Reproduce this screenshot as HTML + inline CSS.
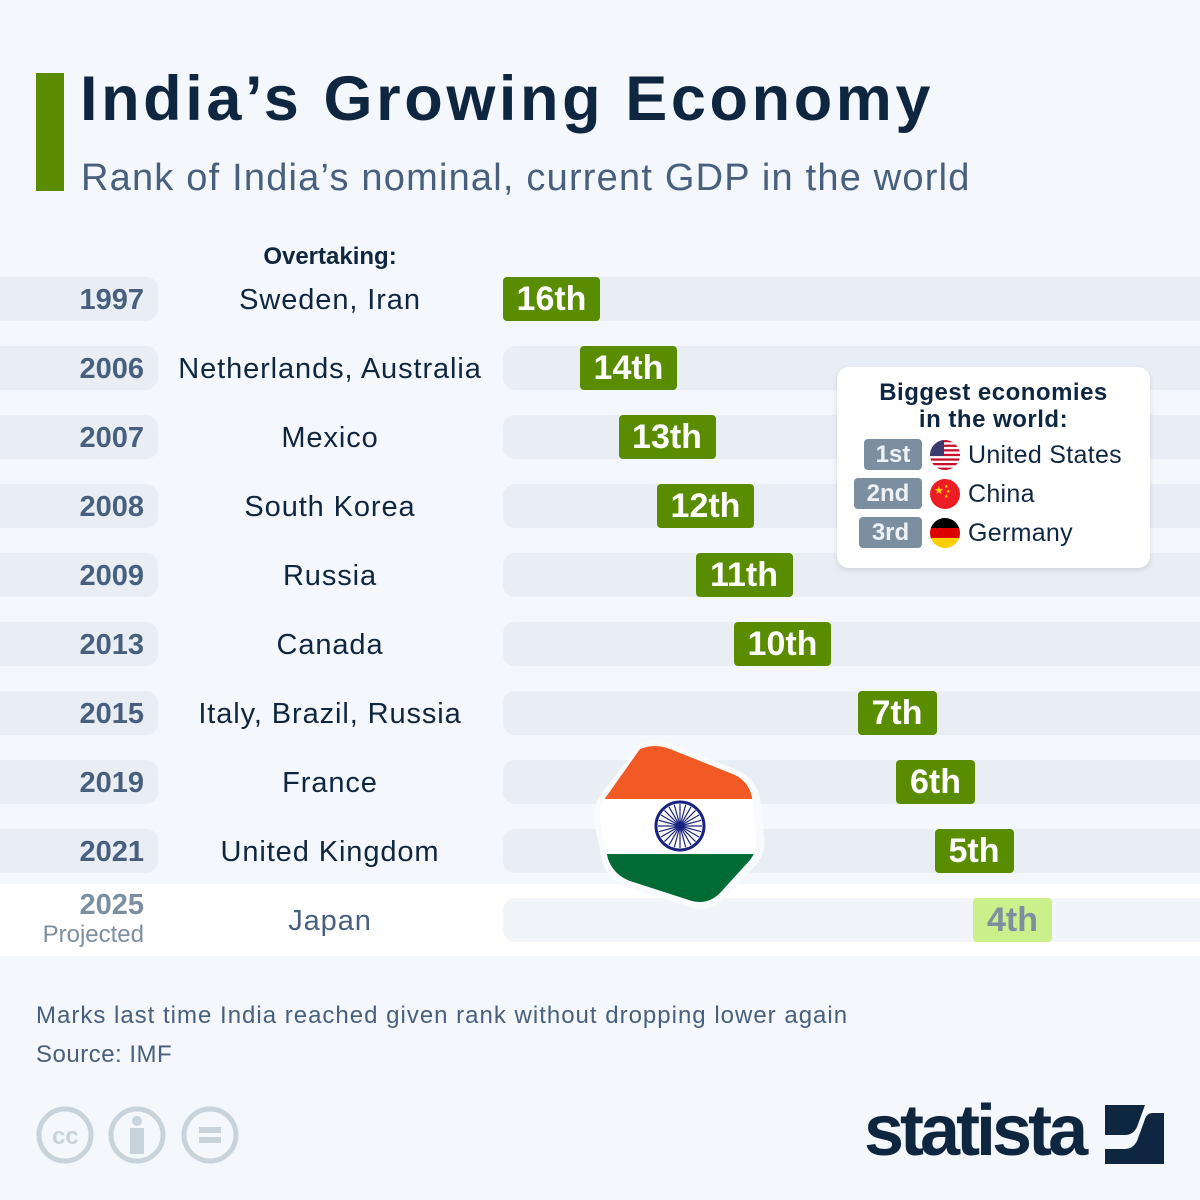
<!DOCTYPE html>
<html><head><meta charset="utf-8"><style>
body{margin:0;width:1200px;height:1200px;background:#f4f7fb;font-family:"Liberation Sans",sans-serif;position:relative;overflow:hidden;color:#0f2640}
.abs{position:absolute}
.yr{font-weight:bold;color:#48607d;font-size:29px;text-align:right}
.cty{font-size:29px;color:#0f2640;text-align:center;width:330px;letter-spacing:0.9px}
.badge{background:#5a8c00;color:#fff;font-weight:bold;font-size:34px;border-radius:4px;text-align:center;height:44px;line-height:44px}
.lrank{background:#7b8fa0;color:#eef2f6;font-weight:bold;font-size:24px;border-radius:4px;text-align:center;height:31px;line-height:31px}
</style></head><body>
<div class="abs" style="left:36px;top:73px;width:28px;height:118px;background:#5a8c00"></div>
<div class="abs" style="left:80px;top:63px;font-size:63px;font-weight:bold;color:#0f2640;letter-spacing:3.6px">India’s Growing Economy</div>
<div class="abs" style="left:81px;top:157px;font-size:38px;color:#48607d;letter-spacing:1.2px">Rank of India’s nominal, current GDP in the world</div>
<div class="abs" style="left:165px;top:243px;width:330px;text-align:center;font-size:24px;font-weight:bold">Overtaking:</div>
<div id="rows"></div>
<svg class="abs" style="left:580px;top:735px" width="200" height="180" viewBox="0 0 200 180">
<defs><clipPath id="cp"><path d="M60 14 Q75 8 90 14 L150 38 Q168 44 172 62 L176 100 Q178 115 170 125 L140 158 Q128 170 112 166 L50 146 Q34 140 28 124 L20 86 Q18 72 26 62 Z"/></clipPath></defs>
<path d="M60 8 Q75 2 90 8 L155 34 Q175 42 180 62 L184 102 Q186 118 176 130 L144 164 Q130 178 110 172 L46 152 Q28 146 22 126 L14 86 Q12 70 22 58 Z" fill="#f8fafc"/>
<g clip-path="url(#cp)"><rect x="0" y="0" width="200" height="64" fill="#f15a24"/><rect x="0" y="64" width="200" height="55" fill="#fff"/><rect x="0" y="119" width="200" height="60" fill="#006b35"/></g>
<circle cx="100" cy="91" r="24" fill="none" stroke="#1a237e" stroke-width="3"/><circle cx="100" cy="91" r="4" fill="#1a237e"/>
<g stroke="#1a237e" stroke-width="1.2" id="spokes"></g>
</svg>
<div class="abs" style="left:837px;top:367px;width:313px;height:201px;background:#fff;border-radius:12px;box-shadow:0 2px 6px rgba(0,0,0,0.12)">
<div style="position:absolute;top:12px;width:100%;text-align:center;font-weight:bold;font-size:24px;line-height:27px;letter-spacing:0.5px">Biggest economies<br>in the world:</div>
<div class="abs lrank" style="left:27px;top:72px;width:58px">1st</div>
<div class="abs lrank" style="left:17px;top:111px;width:68px">2nd</div>
<div class="abs lrank" style="left:22px;top:150px;width:63px">3rd</div>
<svg class="abs" style="left:93px;top:73px" width="30" height="30"><clipPath id="c1"><circle cx="15" cy="15" r="15"/></clipPath><g clip-path="url(#c1)"><rect width="30" height="30" fill="#fff"/><g fill="#c8102e"><rect y="0" width="30" height="2.3"/><rect y="4.6" width="30" height="2.3"/><rect y="9.2" width="30" height="2.3"/><rect y="13.8" width="30" height="2.3"/><rect y="18.4" width="30" height="2.3"/><rect y="23" width="30" height="2.3"/><rect y="27.6" width="30" height="2.4"/></g><rect width="14" height="16" fill="#3c3b6e"/></g></svg>
<svg class="abs" style="left:93px;top:112px" width="30" height="30"><circle cx="15" cy="15" r="15" fill="#ee1c25"/><text x="4" y="15" font-size="11" fill="#ffde00">★</text><text x="14" y="9" font-size="5" fill="#ffde00">★</text><text x="16" y="14" font-size="5" fill="#ffde00">★</text><text x="14" y="19" font-size="5" fill="#ffde00">★</text></svg>
<svg class="abs" style="left:93px;top:151px" width="30" height="30"><clipPath id="c3"><circle cx="15" cy="15" r="15"/></clipPath><g clip-path="url(#c3)"><rect width="30" height="10" fill="#000"/><rect y="10" width="30" height="10" fill="#dd0000"/><rect y="20" width="30" height="10" fill="#ffce00"/></g></svg>
<div class="abs" style="left:131px;top:74px;font-size:25px;letter-spacing:0.3px">United States</div>
<div class="abs" style="left:131px;top:113px;font-size:25px;letter-spacing:0.3px">China</div>
<div class="abs" style="left:131px;top:152px;font-size:25px;letter-spacing:0.3px">Germany</div>
</div>
<div class="abs" style="left:36px;top:1002px;font-size:24px;color:#48607d;letter-spacing:1px">Marks last time India reached given rank without dropping lower again</div>
<div class="abs" style="left:36px;top:1041px;font-size:24px;color:#48607d;letter-spacing:0.5px">Source: IMF</div>
<div class="abs" style="left:36px;top:1106px">
<svg width="210" height="60"><g fill="none" stroke="#c9d3dc" stroke-width="5"><circle cx="29" cy="29" r="26"/><circle cx="101" cy="29" r="26"/><circle cx="174" cy="29" r="26"/></g><text x="16" y="38" font-size="24" font-weight="bold" fill="#c9d3dc" font-family="Liberation Sans">cc</text><circle cx="101" cy="15" r="5" fill="#c9d3dc"/><rect x="94" y="22" width="14" height="26" fill="#c9d3dc"/><rect x="163" y="21" width="22" height="6" fill="#c9d3dc"/><rect x="163" y="31" width="22" height="6" fill="#c9d3dc"/></svg></div>
<div class="abs" style="left:864px;top:1090px;font-size:72px;font-weight:bold;color:#0f2640;letter-spacing:-4px">statista</div>
<svg class="abs" style="left:1105px;top:1105px" width="59" height="59"><rect width="59" height="59" fill="#0f2640"/><path d="M0 30 L20 30 Q28 30 32 22 L40 0 L59 0 L59 8 L48 8 Q42 8 40 14 L32 36 Q28 44 20 44 L0 44 Z" fill="#f4f7fb"/></svg>
<script>
const years=["1997","2006","2007","2008","2009","2013","2015","2019","2021","2025"];
const countries=["Sweden, Iran","Netherlands, Australia","Mexico","South Korea","Russia","Canada","Italy, Brazil, Russia","France","United Kingdom","Japan"];
const ranks=[16,14,13,12,11,10,7,6,5,4];
const projected=[false,false,false,false,false,false,false,false,false,true];
const rows=document.getElementById('rows');
function xRank(r){return r>=10?503+(16-r)*38.5:511+(16-r)*38.5;}
function yRow(i){return 299+i*69;}
years.forEach((y,i)=>{
  const cy=yRow(i);
  if(projected[i]){
    const bg=document.createElement('div');bg.className='abs';
    
    
    bg.style.cssText=`left:0;top:${cy-36}px;width:1200px;height:72px;background:#fff`;rows.appendChild(bg);
  }
  const yp=document.createElement('div');yp.className='abs';
  
  
  yp.style.cssText=`left:0;top:${cy-22}px;width:158px;height:44px;background:${projected[i]?'transparent':'#e9eef5'};border-radius:0 12px 12px 0`;rows.appendChild(yp);
  const tr=document.createElement('div');tr.className='abs';
  
  
  tr.style.cssText=`left:503px;top:${cy-22}px;width:697px;height:44px;background:${projected[i]?'#f1f4f8':'#e9eef5'};border-radius:12px 0 0 12px`;rows.appendChild(tr);
  const yl=document.createElement('div');yl.className='abs yr';
  
  
  yl.textContent=y;
  if(projected[i]){yl.style.cssText=`left:0;width:144px;top:${cy-30}px;color:#7b8fa0;line-height:30px`;
    const p=document.createElement('div');p.className='abs';
    
    
    p.textContent='Projected';p.style.cssText=`left:0;width:144px;text-align:right;top:${cy+1}px;font-size:24px;color:#7b8fa0`;rows.appendChild(p);}
  else yl.style.cssText=`left:0;width:144px;top:${cy-15}px;`;
  rows.appendChild(yl);
  const c=document.createElement('div');c.className='abs cty';
  
  
  c.textContent=countries[i];c.style.cssText+=`left:165px;top:${cy-15}px;${projected[i]?'color:#48607d':''}`;rows.appendChild(c);
  const b=document.createElement('div');b.className='abs badge';
  
  
  const w=ranks[i]>=10?97:79;
  b.textContent=ranks[i]+'th';
  b.style.cssText=`left:${xRank(ranks[i])}px;top:${cy-22}px;width:${w}px;${projected[i]?'background:#c9f08a;color:#7b8fa0':''}`;
  rows.appendChild(b);
});
const sp=document.getElementById('spokes');
for(let k=0;k<24;k++){const a=k*Math.PI/12;const l=document.createElementNS('http://www.w3.org/2000/svg','line');
l.setAttribute('x1',100);l.setAttribute('y1',91);l.setAttribute('x2',100+22*Math.cos(a));l.setAttribute('y2',91+22*Math.sin(a));sp.appendChild(l);}
</script>
</body></html>
